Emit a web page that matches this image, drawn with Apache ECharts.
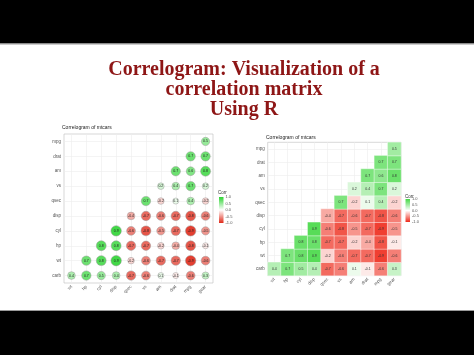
<!DOCTYPE html>
<html><head><meta charset="utf-8">
<script src="https://cdn.jsdelivr.net/npm/echarts@6/dist/echarts.min.js"></script>
<style>html,body{margin:0;padding:0;background:#fff}#c{width:474px;height:355px}</style>
</head><body><div id="c"></div>
<script>
// ---- data ----
const xCats = ['wt','hp','cyl','disp','qsec','vs','am','drat','mpg','gear'];
const yCats = ['carb','wt','hp','cyl','disp','qsec','vs','am','drat','mpg'];
// each row: correlations of yCats[r] with xCats[r..9]
const r_carb = [0.4, 0.7, 0.5, 0.4, -0.7, -0.6, 0.1, -0.1, -0.6, 0.3];
const r_wt   = [0.7, 0.8, 0.9, -0.2, -0.6, -0.7, -0.7, -0.9, -0.6];
const r_hp   = [0.8, 0.8, -0.7, -0.7, -0.2, -0.4, -0.8, -0.1];
const r_cyl  = [0.9, -0.6, -0.8, -0.5, -0.7, -0.9, -0.5];
const r_disp = [-0.4, -0.7, -0.6, -0.7, -0.8, -0.6];
const r_qsec = [0.7, -0.2, 0.1, 0.4, -0.2];
const r_vs   = [0.2, 0.4, 0.7, 0.2];
const r_am   = [0.7, 0.6, 0.8];
const r_drat = [0.7, 0.7];
const r_mpg  = [0.5];
const legendTicks = [-1, -0.5, 0, 0.5, 1];
const titleLines = ['Correlogram: Visualization of a', 'correlation matrix', 'Using R'];
const chartTitle = 'Correlogram of mtcars';
const legendTitle = 'Corr';

const rows = [r_carb, r_wt, r_hp, r_cyl, r_disp, r_qsec, r_vs, r_am, r_drat, r_mpg];
const cells = [];
rows.forEach((vals, r) => vals.forEach((v, k) => cells.push([xCats[r + k], yCats[r], v])));

const LOW1 = '#E02A1A', HIGH1 = '#2DD432';
const LOW2 = '#EE2A1A', HIGH2 = '#45D845';
const sans = 'Liberation Sans, Arial, sans-serif';

const chart = echarts.init(document.getElementById('c'));

function catAxes(gi) {
  const common = {
    gridIndex: gi, type: 'category',
    axisLine: { show: false }, axisTick: { show: false, alignWithLabel: true },
    splitLine: { show: true, alignWithLabel: true, lineStyle: { color: '#ececec', width: 0.6 } }
  };
  return {
    x: Object.assign({}, common, { data: xCats,
      axisLabel: { rotate: 45, fontSize: 4.5, color: '#555', margin: 3, fontFamily: sans } }),
    y: Object.assign({}, common, { data: yCats,
      axisLabel: { fontSize: 4.5, color: '#555', margin: 3, fontFamily: sans } })
  };
}
const a0 = catAxes(0), a1 = catAxes(1);

function legendAxes(gi) {
  return {
    x: { gridIndex: gi, type: 'category', data: [''], show: false },
    y: { gridIndex: gi, type: 'value', min: -1, max: 1, interval: 0.5, position: 'right',
      axisLine: { show: false }, axisTick: { show: false }, splitLine: { show: false },
      axisLabel: { fontSize: 4, color: '#555', margin: 2, fontFamily: sans,
        formatter: v => legendTicks.indexOf(v) >= 0 ? v.toFixed(1) : '' } }
  };
}
const l0 = legendAxes(2), l1 = legendAxes(3);
const grad = (lo, hi) => new echarts.graphic.LinearGradient(0, 0, 0, 1,
  [{ offset: 0, color: hi }, { offset: 0.5, color: '#ffffff' }, { offset: 1, color: lo }]);

chart.setOption({
  animation: false,
  backgroundColor: '#ffffff',
  graphic: [
    { type: 'rect', shape: { x: 0, y: 0, width: 474, height: 43.5 }, style: { fill: '#000' } },
    { type: 'rect', shape: { x: 0, y: 43.5, width: 474, height: 1 }, style: { fill: '#9a9a9a' } },
    { type: 'rect', shape: { x: 0, y: 310, width: 474, height: 1 }, style: { fill: '#9a9a9a' } },
    { type: 'rect', shape: { x: 0, y: 311, width: 474, height: 44 }, style: { fill: '#000' } }
  ],
  title: [
    { text: titleLines.join('\n'), left: 239, top: 55, textAlign: 'center',
      textStyle: { fontFamily: 'Liberation Serif, Times New Roman, serif', fontWeight: 'bold',
        fontSize: 20, lineHeight: 20, color: '#8E1616', align: 'center' } },
    { text: chartTitle, left: 62, top: 125, padding: 0,
      textStyle: { fontFamily: sans, fontSize: 5, fontWeight: 'normal', color: '#222' } },
    { text: chartTitle, left: 266, top: 135, padding: 0,
      textStyle: { fontFamily: sans, fontSize: 5, fontWeight: 'normal', color: '#222' } },
    { text: legendTitle, left: 218, top: 190, padding: 0,
      textStyle: { fontFamily: sans, fontSize: 4.5, fontWeight: 'normal', color: '#333' } },
    { text: legendTitle, left: 405, top: 194, padding: 0,
      textStyle: { fontFamily: sans, fontSize: 4.5, fontWeight: 'normal', color: '#333' } }
  ],
  grid: [
    { left: 64, top: 134, width: 149, height: 149, show: true, borderColor: '#bdbdbd', borderWidth: 0.6 },
    { left: 267.7, top: 142.3, width: 133.3, height: 133.3, show: true, borderColor: '#bdbdbd', borderWidth: 0.6 },
    { left: 219, top: 197, width: 4.5, height: 26, show: true, borderWidth: 0, backgroundColor: grad(LOW1, HIGH1) },
    { left: 405.5, top: 199, width: 4.5, height: 23, show: true, borderWidth: 0, backgroundColor: grad(LOW2, HIGH2) }
  ],
  xAxis: [a0.x, a1.x, l0.x, l1.x],
  yAxis: [a0.y, a1.y, l0.y, l1.y],
  visualMap: [
    { type: 'continuous', show: false, min: -1, max: 1, dimension: 2, seriesIndex: 0,
      inRange: { color: [LOW1, '#ffffff', HIGH1] } },
    { type: 'continuous', show: false, min: -1, max: 1, dimension: 2, seriesIndex: 1,
      inRange: { color: [LOW2, '#ffffff', HIGH2] } }
  ],
  series: [
    { type: 'scatter', xAxisIndex: 0, yAxisIndex: 0, data: cells,
      symbolSize: v => 5.5 + 5.5 * Math.abs(v[2]),
      itemStyle: { borderColor: '#9a9a9a', borderWidth: 0.5, opacity: 1 },
      label: { show: true, position: 'inside', fontSize: 3.5, color: '#222', fontFamily: sans,
        formatter: p => String(p.value[2]) },
      emphasis: { disabled: true } },
    { type: 'heatmap', xAxisIndex: 1, yAxisIndex: 1, data: cells,
      itemStyle: { borderColor: 'rgba(255,255,255,0.9)', borderWidth: 0.5 },
      label: { show: true, fontSize: 3.5, color: '#333', fontFamily: sans,
        formatter: p => String(p.value[2]) },
      emphasis: { disabled: true } }
  ]
});
</script></body></html>
